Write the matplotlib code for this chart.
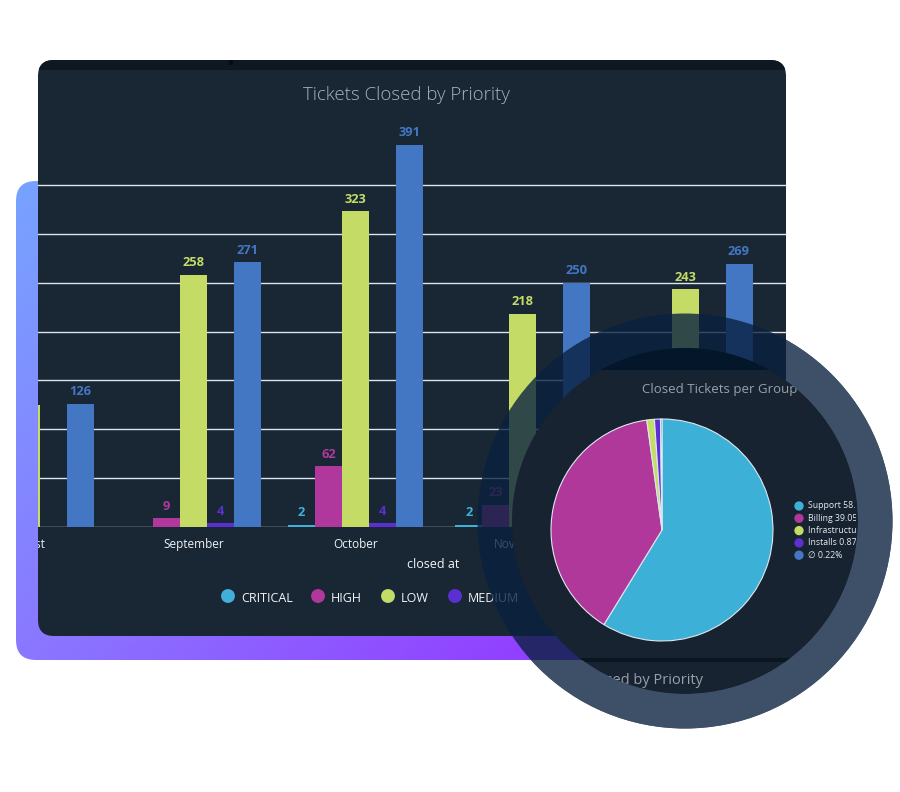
import numpy as np
import pandas as pd
import matplotlib
matplotlib.use('Agg')
import matplotlib.pyplot as plt
import matplotlib.dates as mdates
from matplotlib.patches import FancyBboxPatch, Rectangle, Circle, Annulus
from matplotlib.colors import LinearSegmentedColormap
from matplotlib.transforms import Bbox

plt.rcParams['font.family'] = ['Open Sans', 'DejaVu Sans']

# --- data: tickets closed per month by priority ---
months = ['August', 'September', 'October', 'November', 'December']
month_starts = pd.date_range('2023-08-01', periods=5, freq='MS')
priorities = ['CRITICAL', 'HIGH', 'LOW', 'MEDIUM', '∅']
critical = [0, 0, 2, 2, 3]
high = [0, 9, 62, 23, 48]
low = [125, 258, 323, 218, 243]
medium = [0, 4, 4, 3, 5]
no_prio = [126, 271, 391, 250, 269]
prio_colors = ['#3fb0d9', '#b0389c', '#c4dc66', '#5b2fd1', '#4377c3']

# --- data: closed tickets per group (%) ---
groups = ['Support', 'Billing', 'Infrastructure', 'Installs', '∅']
group_share = [58.76, 39.05, 1.10, 0.87, 0.22]
group_colors = ['#3cb0d7', '#b0389b', '#c4dc66', '#5b2fd1', '#4478c6']

W, H = 900, 792
fig = plt.figure(figsize=(9, 7.92), dpi=100)


def box(x0, y0, x1, y1):
    # pixel box (y down) -> figure fraction rect
    return [x0 / W, 1 - y1 / H, (x1 - x0) / W, (y1 - y0) / H]


def pixel_axes(z):
    a = fig.add_axes([0, 0, 1, 1], zorder=z)
    a.set_xlim(0, W)
    a.set_ylim(H, 0)
    a.axis('off')
    return a


# background: purple card + dark panel
bg = pixel_axes(0)
purple = FancyBboxPatch((16, 181), 600, 479, boxstyle='round,pad=0,rounding_size=20',
                        fc='none', ec='none')
bg.add_patch(purple)
gx, gy = np.meshgrid(np.linspace(16, 616, 300), np.linspace(181, 660, 240))
grad = np.clip(0.5 * (gy - 181) / 479 + 0.5 * (gx - 16) / 500, 0, 1)
cmap = LinearSegmentedColormap.from_list('card', ['#77a3ff', '#8a78ff', '#9140ff'])
im = bg.imshow(grad, cmap=cmap, extent=(16, 616, 660, 181), origin='upper',
               aspect='auto', vmin=0, vmax=1)
im.set_clip_path(purple)

panel = FancyBboxPatch((38, 60), 748, 576, boxstyle='round,pad=0,rounding_size=16',
                       fc='#192735', ec='none')
bg.add_patch(panel)
strip = Rectangle((38, 60), 748, 10, fc='#0e1823', ec='none')
bg.add_patch(strip)
strip.set_clip_path(panel)
bg.add_patch(Rectangle((229, 60), 4, 5, fc='#050c14', ec='none'))
bg.set_xlim(0, W)
bg.set_ylim(H, 0)

bg.text(406, 95, 'Tickets Closed by Priority', ha='center', va='center',
        fontsize=13.4, color='#a9b1bc', fontweight='light')
bg.text(433, 564, 'closed at', ha='center', va='center', fontsize=9, color='#f2f5f8')
legend_x = [228, 318, 388, 455, 545]
for lx, name, c in zip(legend_x, priorities, prio_colors):
    bg.scatter(lx, 596, s=100, color=c, edgecolors='none')
    bg.text(lx + 13, 598, name, ha='left', va='center', fontsize=9, color='#f2f5f8')

# bar chart
panel_clip = Bbox.from_extents(38, 0, 786, H)
ax = fig.add_axes(box(38, 136, 786, 527), zorder=1)
ax.patch.set_visible(False)
x = mdates.date2num(month_starts)
offsets = [-10, -5, 0, 5, 10]
series = [critical, high, low, medium, no_prio]
for vals, off, c in zip(series, offsets, prio_colors):
    ax.bar(x + off, vals, width=5, color=c, zorder=2)
    for xi, v in zip(x + off, vals):
        if v > 0:
            lab = ax.annotate(str(v), (xi, v), xytext=(0, 4), textcoords='offset points',
                              ha='center', va='bottom', fontsize=9.3, fontweight='bold', color=c)
            lab.set_clip_box(panel_clip)
            lab.set_clip_on(True)

ax.set_xlim(x[1] - 28.8, x[1] + 109.7)
ax.set_ylim(0, 400)
ax.set_yticks(range(0, 351, 50))
ax.yaxis.grid(True, color='#dde4ec', linewidth=1)
ax.set_axisbelow(True)
ax.tick_params(left=False, labelleft=False, bottom=False, labelbottom=False)
for s in ax.spines.values():
    s.set_visible(False)
for xi, m in zip(x, months):
    t = ax.text(xi, -0.0435, m, transform=ax.get_xaxis_transform(), ha='center',
                va='center', fontsize=8.5, color='#eef2f6')
    t.set_clip_box(panel_clip)
    t.set_clip_on(True)

# magnifier circle with the group pie
cx, cy, r_out, r_in = 685, 521, 207.5, 173
ov = pixel_axes(2)
ov.add_patch(Circle((cx, cy), r_out, fc=(8 / 255, 32 / 255, 63 / 255), alpha=0.786, ec='none'))
disc = Circle((cx, cy), r_in, fc='#172330', ec='none')
ov.add_patch(disc)
for y0, hgt, c in [(340, 30, '#04162a'), (658, 4, '#0a1622')]:
    rr = Rectangle((cx - r_in, y0), 2 * r_in, hgt, fc=c, ec='none')
    ov.add_patch(rr)
    rr.set_clip_path(disc)

ov.text(720, 390, 'Closed Tickets per Group', ha='center', va='center',
        fontsize=9.5, color='#98a1ab')
for i, (g, p, c) in enumerate(zip(groups, group_share, group_colors)):
    yy = 506 + i * 12.3
    ov.scatter(799, yy, s=45, color=c, edgecolors='none')
    tt = ov.text(808, yy, f'{g} {p:.2f}%', ha='left', va='center', fontsize=6.3, color='#e6ebf0')
    tt.set_clip_box(Bbox.from_extents(0, 0, 856, H))
    tt.set_clip_on(True)
bt = ov.text(703, 681, 'Tickets Closed by Priority', ha='right', va='center',
             fontsize=10.5, color='#98a1ab')
bt.set_clip_box(Bbox.from_extents(580, 0, W, H))
bt.set_clip_on(True)

pcx, pcy, pr = 662, 530, 111 * 1.02
pa = fig.add_axes(box(pcx - pr, pcy - pr, pcx + pr, pcy + pr), zorder=3)
pa.pie(group_share, colors=group_colors, startangle=90, counterclock=False,
       wedgeprops=dict(edgecolor='#dfe7ef', linewidth=0.8))
pa.set_xlim(-1.02, 1.02)
pa.set_ylim(-1.02, 1.02)

# ring over the white page is opaque-looking
top = pixel_axes(4)
for clip in [Rectangle((786, 0), 114, 660), Rectangle((0, 660), 900, 132)]:
    ann = Annulus((cx, cy), r_out, r_out - r_in, fc='#3d5068', ec='none')
    top.add_patch(ann)
    clip.set_transform(top.transData)
    ann.set_clip_path(clip)

plt.savefig('out.png', dpi=100)
